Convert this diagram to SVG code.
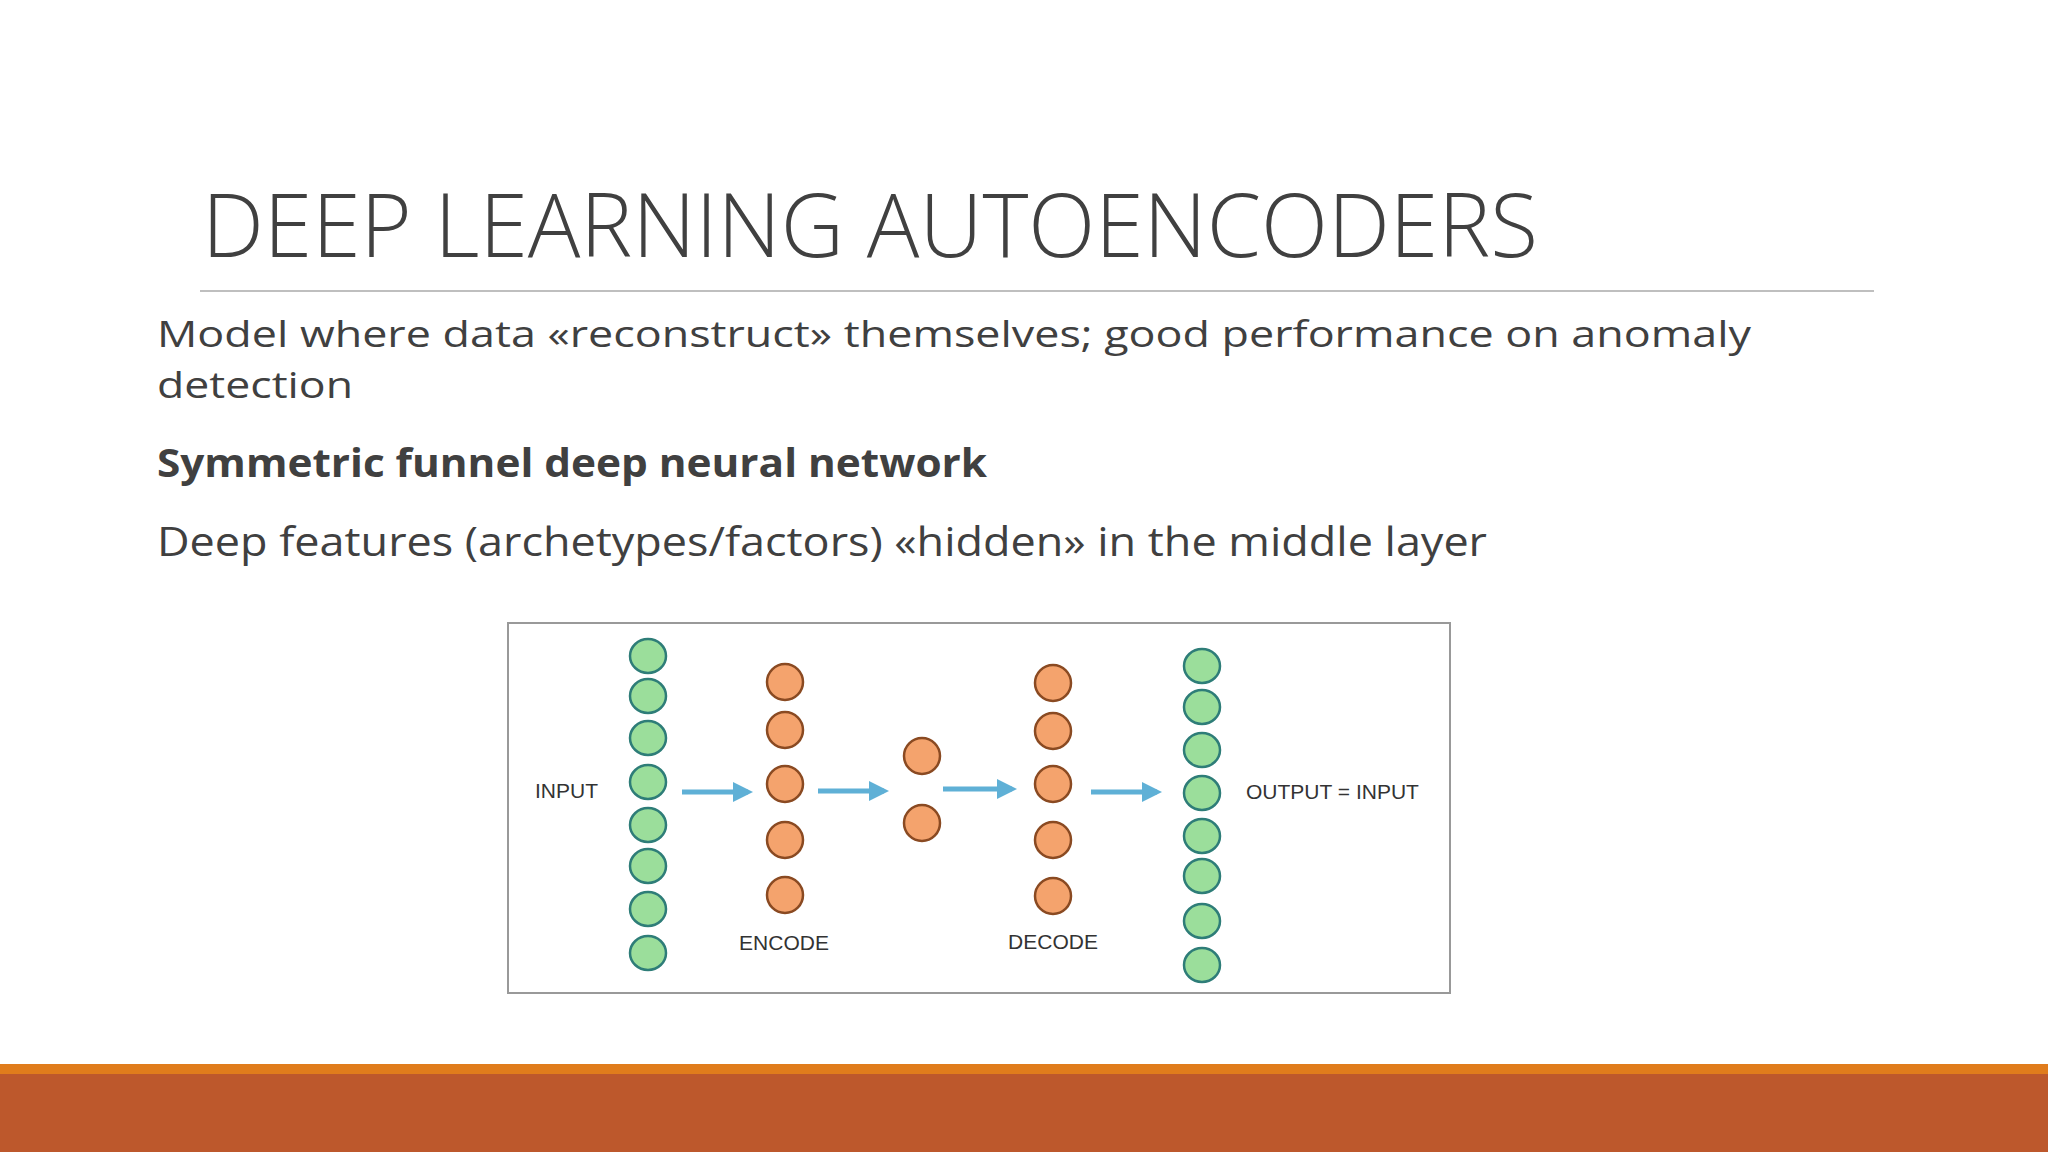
<svg xmlns="http://www.w3.org/2000/svg" width="2048" height="1152" viewBox="0 0 2048 1152">
<style>
.t{font-family:"Open Sans","Liberation Sans",sans-serif;fill:#404040}
.d{font-family:"Liberation Sans",Arial,sans-serif;font-size:21px;fill:#333}
.g{fill:#9bde9b;stroke:#2e7d78;stroke-width:2.5}
.o{fill:#f4a36d;stroke:#8a4a22;stroke-width:2.5}
.a{stroke:#5fb0d6;stroke-width:5}
</style>
<defs><marker id="ah" markerWidth="4" markerHeight="4" refX="3" refY="2" orient="auto"><path d="M0,0L4,2L0,4Z" fill="#5fb0d6"/></marker></defs>
<rect width="2048" height="1152" fill="#fff"/>
<text class="t" x="202" y="257" font-size="88" font-weight="300" textLength="1336" lengthAdjust="spacingAndGlyphs">DEEP LEARNING AUTOENCODERS</text>
<line x1="200" y1="291" x2="1874" y2="291" stroke="#bfbfbf" stroke-width="2"/>
<text class="t" x="157" y="347" font-size="37" textLength="1594" lengthAdjust="spacingAndGlyphs">Model where data «reconstruct» themselves; good performance on anomaly</text>
<text class="t" x="157" y="398" font-size="37" textLength="196" lengthAdjust="spacingAndGlyphs">detection</text>
<text class="t" x="157" y="477" font-size="40" font-weight="bold" textLength="830" lengthAdjust="spacingAndGlyphs">Symmetric funnel deep neural network</text>
<text class="t" x="157" y="556" font-size="40" textLength="1330" lengthAdjust="spacingAndGlyphs">Deep features (archetypes/factors) «hidden» in the middle layer</text>
<rect x="508" y="623" width="942" height="370" fill="#fff" stroke="#999" stroke-width="2"/>
<g id="input">
<ellipse class="g" cx="648" cy="656" rx="18" ry="17"/><ellipse class="g" cx="648" cy="696" rx="18" ry="17"/><ellipse class="g" cx="648" cy="738" rx="18" ry="17"/><ellipse class="g" cx="648" cy="782" rx="18" ry="17"/><ellipse class="g" cx="648" cy="825" rx="18" ry="17"/><ellipse class="g" cx="648" cy="866" rx="18" ry="17"/><ellipse class="g" cx="648" cy="909" rx="18" ry="17"/><ellipse class="g" cx="648" cy="953" rx="18" ry="17"/>
<text class="d" x="535" y="798">INPUT</text></g>
<g id="encode">
<ellipse class="o" cx="785" cy="682" rx="18" ry="18"/><ellipse class="o" cx="785" cy="730" rx="18" ry="18"/><ellipse class="o" cx="785" cy="784" rx="18" ry="18"/><ellipse class="o" cx="785" cy="840" rx="18" ry="18"/><ellipse class="o" cx="785" cy="895" rx="18" ry="18"/>
<text class="d" x="784" y="950" text-anchor="middle">ENCODE</text></g>
<g id="hidden"><ellipse class="o" cx="922" cy="756" rx="18" ry="18"/><ellipse class="o" cx="922" cy="823" rx="18" ry="18"/></g>
<g id="decode">
<ellipse class="o" cx="1053" cy="683" rx="18" ry="18"/><ellipse class="o" cx="1053" cy="731" rx="18" ry="18"/><ellipse class="o" cx="1053" cy="784" rx="18" ry="18"/><ellipse class="o" cx="1053" cy="840" rx="18" ry="18"/><ellipse class="o" cx="1053" cy="896" rx="18" ry="18"/>
<text class="d" x="1053" y="949" text-anchor="middle">DECODE</text></g>
<g id="output">
<ellipse class="g" cx="1202" cy="666" rx="18" ry="17"/><ellipse class="g" cx="1202" cy="707" rx="18" ry="17"/><ellipse class="g" cx="1202" cy="750" rx="18" ry="17"/><ellipse class="g" cx="1202" cy="793" rx="18" ry="17"/><ellipse class="g" cx="1202" cy="836" rx="18" ry="17"/><ellipse class="g" cx="1202" cy="876" rx="18" ry="17"/><ellipse class="g" cx="1202" cy="921" rx="18" ry="17"/><ellipse class="g" cx="1202" cy="965" rx="18" ry="17"/>
<text class="d" x="1246" y="799">OUTPUT = INPUT</text></g>
<g id="connectors">
<line class="a" x1="682" y1="792" x2="748" y2="792" marker-end="url(#ah)"/>
<line class="a" x1="818" y1="791" x2="884" y2="791" marker-end="url(#ah)"/>
<line class="a" x1="943" y1="789" x2="1012" y2="789" marker-end="url(#ah)"/>
<line class="a" x1="1091" y1="792" x2="1157" y2="792" marker-end="url(#ah)"/>
</g>
<rect x="0" y="1064" width="2048" height="10" fill="#e07c1c"/>
<rect x="0" y="1074" width="2048" height="78" fill="#bd582c"/>
</svg>
